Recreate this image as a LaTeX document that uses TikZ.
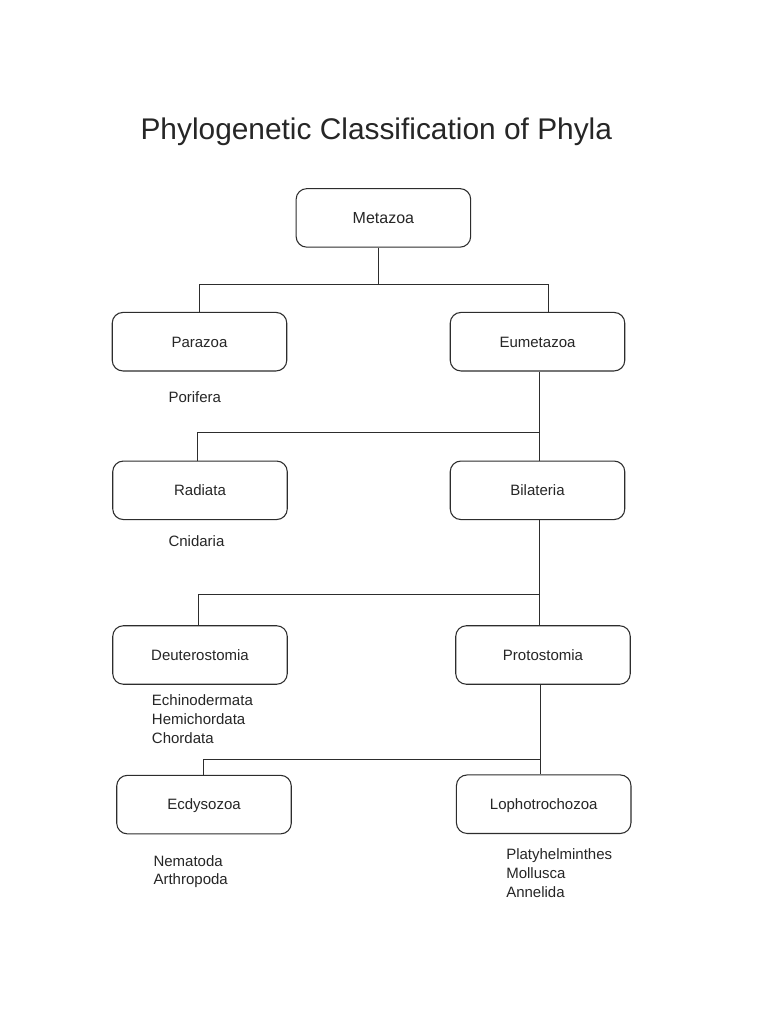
\documentclass[tikz,border=0pt]{standalone}
\usepackage{fontspec}
\setmainfont{Liberation Sans}
\definecolor{ink}{RGB}{38,38,38}
\definecolor{wire}{RGB}{45,45,45}
\begin{document}
\begin{tikzpicture}[x=0.75pt,y=-0.75pt,
  taxon/.style={draw=wire, line width=0.8pt, rounded corners=8pt,
    minimum width=130.9pt, minimum height=43.9pt, inner sep=0pt, text=ink,
    font=\fontsize{11.25}{13.5}\selectfont, text height=8.05pt, text depth=0pt},
  members/.style={anchor=north west, inner sep=0pt, align=left, text=ink,
    font=\fontsize{11.25}{14.1}\selectfont},
  link/.style={draw=wire, line width=0.75pt}]
\useasboundingbox[fill=white] (0,0) rectangle (768,1024);

% title
\node[anchor=base, inner sep=0pt, text=ink, font=\fontsize{22.4}{27}\selectfont]
  (title) at (376.3,139) {Phylogenetic Classification of Phyla};

% boxes
\node[taxon, font=\fontsize{12}{14}\selectfont, text height=8.6pt] (metazoa) at (383.4,217.9) {Metazoa};
\node[taxon] (parazoa)   at (199.5,341.7) {Parazoa};
\node[taxon] (eumetazoa) at (537.5,341.7) {Eumetazoa};
\node[taxon] (radiata)   at (200,490.3) {Radiata};
\node[taxon] (bilateria) at (537.5,490.3) {Bilateria};
\node[taxon] (deutero)   at (200,655) {Deuterostomia};
\node[taxon] (proto)     at (543,655) {Protostomia};
\node[taxon] (ecdyso)    at (204,804.6) {Ecdysozoa};
\node[taxon] (lopho)     at (543.7,804.2) {Lophotrochozoa};

% member lists
\node[members] (porifera) at (168.3,391.6) {Porifera};
\node[members] (cnidaria) at (168.3,535.6) {Cnidaria};
\node[members] (deutlist) at (151.7,694.3) {Echinodermata\\Hemichordata\\Chordata};
\node[members] (ecdylist) at (153.3,855.0) {Nematoda\\Arthropoda};
\node[members] (lophlist) at (506.0,848.6) {Platyhelminthes\\Mollusca\\Annelida};

% junction coordinates
\coordinate (b1m) at (378.7,284);
\coordinate (b1l) at (199.3,284);
\coordinate (b1r) at (548.7,284);
\coordinate (b2l) at (197.3,432.5);
\coordinate (b2r) at (539.3,432.5);
\coordinate (b3l) at (198.3,594.3);
\coordinate (b3r) at (539.6,594.3);
\coordinate (b4l) at (203.3,759);
\coordinate (b4r) at (540.3,759);

% connectors
\draw[link] (b1m |- metazoa.south) -- (b1m);
\draw[link] (b1l |- parazoa.north) -- (b1l) -- (b1r) -- (b1r |- eumetazoa.north);

\draw[link] (b2r |- eumetazoa.south) -- (b2r |- bilateria.north);
\draw[link] (b2l |- radiata.north) -- (b2l) -- (b2r);

\draw[link] (b3r |- bilateria.south) -- (b3r |- proto.north);
\draw[link] (b3l |- deutero.north) -- (b3l) -- (b3r);

\draw[link] (b4r |- proto.south) -- (b4r |- lopho.north);
\draw[link] (b4l |- ecdyso.north) -- (b4l) -- (b4r);
\end{tikzpicture}
\end{document}
